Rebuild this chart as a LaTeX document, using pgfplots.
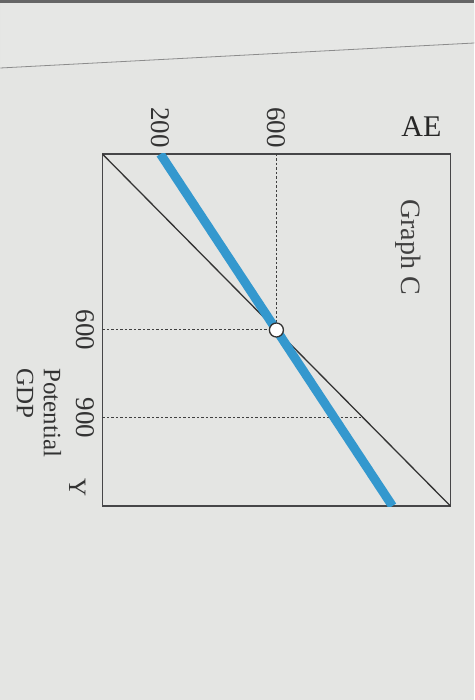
\documentclass[border=0pt]{standalone}
\usepackage{fontspec}
\setmainfont{Liberation Serif}
\usepackage{pgfplots}
\pgfplotsset{compat=1.18}

\definecolor{paper}{RGB}{228,229,227}
\definecolor{aeblue}{RGB}{52,152,206}
\definecolor{frame}{RGB}{70,70,72}

\begin{document}
\begin{tikzpicture}[x=1pt,y=1pt]
% photo background
\fill[paper] (0,0) rectangle (474,700);
\fill[paper!92!white] (0,632) -- (474,657) -- (474,700) -- (0,700) -- cycle;
\fill[black!60] (0,697) rectangle (474,700);
\draw[black!45, line width=0.8pt] (0,632) -- (474,657);
\useasboundingbox (0,0) rectangle (474,700);

\begin{axis}[
    at={(102pt,194pt)}, anchor=south west,
    width=348pt, height=352pt, scale only axis,
    xmin=0, xmax=1200, ymin=0, ymax=1200,
    y dir=reverse,
    xtick={200,600}, ytick={600,900},
    xticklabel pos=upper,
    major tick length=0pt,
    axis line style={frame, line width=1.4pt},
    /pgf/number format/assume math mode=true,
    tick label style={font=\fontsize{27}{30}\selectfont, text=black!80},
    xticklabel style={rotate=-90, anchor=east, inner sep=6pt},
    yticklabel style={rotate=-90, anchor=north, inner sep=8pt},
]
% guide lines
\addplot[black!75, line width=1pt, dash pattern=on 2.5pt off 2pt] coordinates {(600,0)(600,600)};
\addplot[black!75, line width=1pt, dash pattern=on 2.5pt off 2pt] coordinates {(0,600)(600,600)};
\addplot[black!75, line width=1pt, dash pattern=on 2.5pt off 2pt] coordinates {(0,900)(900,900)};
% 45-degree line
\addplot[black!80, line width=1.3pt] coordinates {(0,0)(1200,1200)};
% AE line
\addplot[aeblue, line width=9pt] coordinates {(200,0)(1000,1200)};
% equilibrium point
\addplot[only marks, mark=*, mark size=7pt,
    mark options={fill=white, draw=black!80, line width=1.3pt}] coordinates {(600,600)};
\end{axis}

\node[text=black!85, font=\fontsize{30}{32}\selectfont] at (421,573) {AE};
\node[rotate=-90, text=black!75, font=\fontsize{28}{30}\selectfont] at (408,453) {Graph C};
\node[rotate=-90, anchor=north west, inner sep=0pt, align=left, text=black!80,
    font=\fontsize{25}{27}\selectfont] at (61,332) {Potential\\GDP};
\node[rotate=-90, text=black!80, font=\fontsize{25}{27}\selectfont] at (77,212) {Y};
\end{tikzpicture}
\end{document}
